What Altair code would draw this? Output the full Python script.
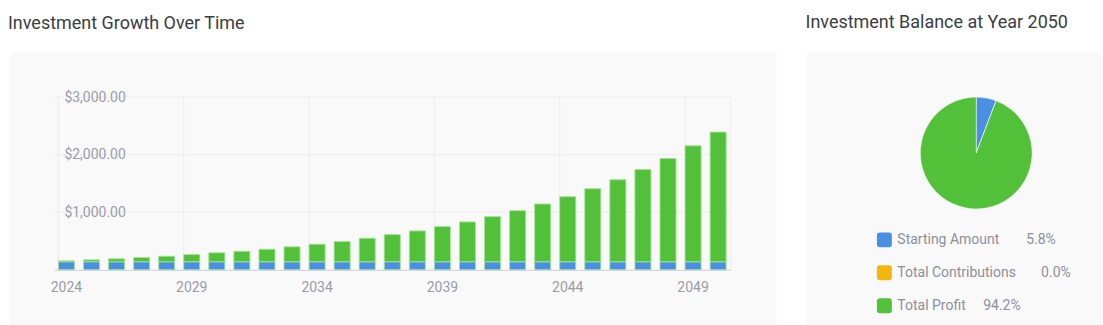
import altair as alt
import pandas as pd

# ---------------- data ----------------
YEARS = [2024, 2025, 2026, 2027, 2028, 2029, 2030, 2031, 2032, 2033, 2034, 2035, 2036, 2037,
         2038, 2039, 2040, 2041, 2042, 2043, 2044, 2045, 2046, 2047, 2048, 2049, 2050]
STARTING_AMOUNT = [140, 140, 140, 140, 140, 140, 140, 140, 140, 140, 140, 140, 140, 140,
                   140, 140, 140, 140, 140, 140, 140, 140, 140, 140, 140, 140, 140]
TOTAL_BALANCE = [156, 173, 191, 213, 236, 265, 295, 322, 357, 399, 444, 490, 548, 612,
                 676, 750, 832, 924, 1028, 1144, 1270, 1409, 1565, 1743, 1934, 2154, 2392]
X_TICKS = [2024, 2029, 2034, 2039, 2044, 2049]
Y_TICKS = [1000, 2000, 3000]

PIE_LABELS = ["Starting Amount", "Total Contributions", "Total Profit"]
PIE_SHARES = [5.8, 0.0, 94.2]

LEFT_TITLE = "Investment Growth Over Time"
RIGHT_TITLE = "Investment Balance at Year 2050"

# ---------------- style / layout ----------------
BLUE, ORANGE, GREEN = "#4a90e2", "#f1b70c", "#52c038"
PANEL = "#f9f9f9"
GRID = "#ececec"
FONT = "Roboto"
TITLE_COLOR = "#3a3d42"
AXIS_LABEL = "#9b9ca6"
LEGEND_TEXT = "#8c909a"
W, H = 678, 173          # left plot area
RW, RH = 200, 112        # right view
SPACING = 146
VALUE_X = [150, 165, 107]  # legend value text positions

# ---------------- tables ----------------
bars = pd.DataFrame({
    "year": YEARS * 2,
    "series": ["Starting Amount"] * len(YEARS) + ["Total Profit"] * len(YEARS),
    "value": STARTING_AMOUNT + [t - s for t, s in zip(TOTAL_BALANCE, STARTING_AMOUNT)],
    "ord": [0] * len(YEARS) + [1] * len(YEARS),
})
ygrid = pd.DataFrame({"v": Y_TICKS})
xgrid = pd.DataFrame({"year": X_TICKS})
one = pd.DataFrame({"k": [0]})
pie = pd.DataFrame({
    "label": PIE_LABELS,
    "share": PIE_SHARES,
    "idx": [0, 1, 2],
    "pct": [f"{s:.1f}%" for s in PIE_SHARES],
    "vx": VALUE_X,
})

color_scale = alt.Scale(domain=PIE_LABELS, range=[BLUE, ORANGE, GREEN])
xscale = alt.Scale(domain=YEARS, paddingInner=0.36, paddingOuter=0.18)
yscale = alt.Scale(domain=[0, 3000], nice=False)
xaxis = alt.Axis(values=X_TICKS, labelAngle=0, ticks=False, grid=False, domain=True,
                 domainColor="#cdd0d6", labelPadding=22, labelBaseline="alphabetic",
                 labelFontSize=14, labelColor=AXIS_LABEL, labelFont=FONT, title=None,
                 zindex=1, labelOverlap=False)
yaxis = alt.Axis(values=Y_TICKS, format="$,.2f", labelAlign="left", labelPadding=-10,
                 labelBaseline="middle", ticks=False, domain=False, grid=False,
                 labelFontSize=14, labelColor=AXIS_LABEL, labelFont=FONT, title=None,
                 zindex=1)

# ---------------- left chart ----------------
canvas = alt.Chart(one).mark_rect(color="white").encode(
    x=alt.value(-53), x2=alt.value(1050), y=alt.value(-96), y2=alt.value(229))
panel_l = alt.Chart(one).mark_rect(color=PANEL).encode(
    x=alt.value(-44), x2=alt.value(724), y=alt.value(-45), y2=alt.value(229))
title_l = alt.Chart(one).mark_text(
    text=LEFT_TITLE, align="left", baseline="alphabetic", fontSize=18, font=FONT,
    color=TITLE_COLOR).encode(x=alt.value(-46), y=alt.value(-68))
hgrid = alt.Chart(ygrid).mark_rule(color=GRID, strokeWidth=1).encode(
    y=alt.Y("v:Q", scale=yscale, axis=yaxis))
vgrid = alt.Chart(xgrid).mark_rule(color=GRID, strokeWidth=1).encode(
    x=alt.X("year:O", scale=xscale, axis=xaxis, bandPosition=0))
redge = alt.Chart(one).mark_rule(color=GRID, strokeWidth=1).encode(x=alt.value(W))
barl = alt.Chart(bars).mark_bar(stroke="#a3e396", strokeWidth=1, strokeOpacity=0.9).encode(
    x=alt.X("year:O", scale=xscale, axis=xaxis),
    y=alt.Y("value:Q", stack="zero", scale=yscale, axis=yaxis),
    color=alt.Color("series:N", scale=color_scale, legend=None),
    order=alt.Order("ord:Q"),
)
left = alt.layer(canvas, panel_l, title_l, hgrid, vgrid, redge, barl).properties(width=W, height=H)

# ---------------- right chart ----------------
panel_r = alt.Chart(one).mark_rect(color=PANEL).encode(
    x=alt.value(-70), x2=alt.value(226), y=alt.value(-45), y2=alt.value(229))
title_r = alt.Chart(one).mark_text(
    text=RIGHT_TITLE, align="left", baseline="alphabetic", fontSize=18, font=FONT,
    color=TITLE_COLOR).encode(x=alt.value(-71), y=alt.value(-69))
arc = alt.Chart(pie).mark_arc(radius=56, stroke="white", strokeWidth=0.5).encode(
    theta=alt.Theta("share:Q", stack=True),
    color=alt.Color("label:N", scale=color_scale, legend=None),
    order=alt.Order("idx:Q"),
)
ly = alt.Y("label:N", scale=alt.Scale(domain=PIE_LABELS, range=[143, 209], padding=0), axis=None)
RSQ = ("M -0.6,-1 L 0.6,-1 Q 1,-1 1,-0.6 L 1,0.6 Q 1,1 0.6,1 L -0.6,1 Q -1,1 -1,0.6 "
       "L -1,-0.6 Q -1,-1 -0.6,-1 Z")
sw = alt.Chart(pie).mark_point(shape=RSQ, filled=True, size=225, opacity=1).encode(
    x=alt.value(8), y=ly,
    color=alt.Color("label:N", scale=color_scale, legend=None))
lt = alt.Chart(pie).mark_text(align="left", baseline="middle", fontSize=14, font=FONT,
                              color=LEGEND_TEXT).encode(x=alt.value(21), y=ly, text="label:N")
vt = alt.Chart(pie).mark_text(align="left", baseline="middle", fontSize=14, font=FONT,
                              color=LEGEND_TEXT).encode(
    x=alt.X("vx:Q", scale=None, axis=None), y=ly, text="pct:N")
right = alt.layer(panel_r, title_r, arc, sw, lt, vt).properties(width=RW, height=RH)

chart = alt.hconcat(left, right, spacing=SPACING, bounds="flush").properties(
    padding=0, background="white"
).configure_view(stroke=None).configure(font=FONT)

chart.save("out.html", embed_options={"renderer": "svg", "actions": False})
